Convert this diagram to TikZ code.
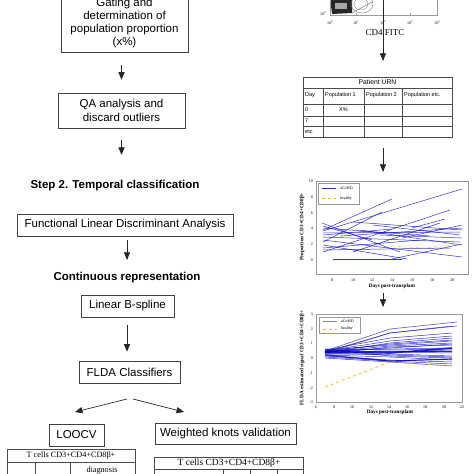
\documentclass[tikz,border=0pt]{standalone}
\usepackage{fontspec}
\setmainfont{Liberation Sans}
\newfontfamily\serifface{Liberation Serif}
\usepackage{tikz}
\usetikzlibrary{arrows}
\newcommand{\boxfont}{\fontsize{11.5}{13.3}\selectfont}
\newcommand{\headfont}{\fontsize{11.5}{13.3}\selectfont\bfseries}
\newcommand{\cellfont}{\fontsize{5.5}{6}\selectfont}
\newcommand{\tickfont}{\serifface\fontsize{4}{4.5}\selectfont}
\newcommand{\labfont}{\serifface\fontsize{5.2}{6}\selectfont\bfseries}
\tikzstyle{stepbox} = [draw=black!75, line width=0.8pt, align=center, inner sep=0pt, font=\boxfont]
\tikzstyle{steptitle} = [font=\headfont, inner sep=0pt, text height=8.5pt, text depth=2.5pt]
\tikzstyle{flow} = [draw=black!85, line width=0.7pt, >=triangle 45, ->]
\tikzstyle{gvhd} = [draw=blue!75!black, line width=0.5pt, opacity=0.8]
\tikzstyle{healthy} = [draw=orange!60!yellow, dashed, line width=0.7pt]
\tikzstyle{plotframe} = [draw=black!40, line width=0.5pt, inner sep=0pt]
\tikzstyle{tablerule} = [draw=black!70, line width=0.5pt]

\begin{document}
\begin{tikzpicture}[x=1pt,y=-1pt]
	\useasboundingbox (0,0) rectangle (474,474);
	\clip (0,0) rectangle (474,474);
	\fill[white] (0,0) rectangle (474,474);

	% ------------------- Step boxes (left column) ------------------- %
	\node[stepbox, minimum width=127pt, minimum height=58pt] (gating) at (124.5,23) {Gating and\\determination of\\population proportion\\(x\%)};
	\node[stepbox, minimum width=127pt, minimum height=35pt] (qa) at (121.5,110.5) {QA analysis and\\discard outliers};
	\node[steptitle] (step2) at (115,185) {Step 2. Temporal classification};
	\node[stepbox, minimum width=216pt, minimum height=22pt] (flda) at (125,225) {Functional Linear Discriminant Analysis};
	\node[steptitle] (contrep) at (127,277) {Continuous representation};
	\node[stepbox, minimum width=93pt, minimum height=22pt] (bspline) at (127.5,306) {Linear B-spline};
	\node[stepbox, minimum width=101pt, minimum height=22pt] (classif) at (129.5,372) {FLDA Classifiers};
	\node[stepbox, minimum width=55pt, minimum height=22pt] (loocv) at (76.5,435) {LOOCV};
	\node[stepbox, minimum width=141pt, minimum height=21pt] (knots) at (225.5,433.5) {Weighted knots validation};

	\draw[flow, shorten <=13pt, shorten >=13pt] (gating.south -| qa.north) -- (qa.north);
	\draw[flow, shorten <=12pt, shorten >=24.5pt] (qa.south) -- (qa.south |- step2.north);
	\draw[flow, shorten <=4pt, shorten >=11.5pt] (flda.south -| contrep.north) -- (contrep.north);
	\draw[flow, shorten <=8pt, shorten >=9pt] (bspline.south -| contrep.north) -- (contrep.north |- classif.north);

	\coordinate (fork west) at (127,399);
	\coordinate (fork east) at (133,399);
	\coordinate (to loocv) at (75,412);
	\coordinate (to knots) at (184,412);
	\draw[flow] (fork west) -- (to loocv);
	\draw[flow] (fork east) -- (to knots);

	% ------------------- Result tables (bottom) ------------------- %
	\draw[tablerule] (7,449) rectangle (135,480);
	\draw[tablerule] (7,462) -- (135,462);
	\draw[tablerule] (35,462) -- (35,480);
	\draw[tablerule] (70,462) -- (70,480);
	\node[font=\serifface\fontsize{8.2}{9}\selectfont, inner sep=0pt] (loocv head) at (71,455.5) {T cells CD3+CD4+CD8β+};
	\node[font=\serifface\fontsize{8.2}{9}\selectfont, inner sep=0pt] (loocv diag) at (102,470.5) {diagnosis};

	\draw[tablerule] (154,457) rectangle (303,480);
	\draw[tablerule] (154,469) -- (303,469);
	\foreach \cx in {223,250,277}
		\draw[tablerule] (\cx,469) -- (\cx,480);
	\node[font=\serifface\fontsize{9.5}{10}\selectfont, inner sep=0pt] (knots head) at (229,463) {T cells CD3+CD4+CD8β+};

	% ------------------- Cytometry plot (top right) ------------------- %
	\fill[black!85] (330,-2) -- (352,-2) -- (352,13) -- (332,14) -- cycle;
	\fill[black!35] (335,3) rectangle (347,9);
	\draw[black!55, line width=0.4pt] (362,4) ellipse (11pt and 9pt);
	\draw[black!45, line width=0.4pt] (361,4) ellipse (7pt and 6pt);
	\draw[black!60, line width=0.4pt] (352,13) -- (372,2);
	\draw[plotframe] (330,-2) -- (330,15) -- (437,15) -- (437,-2);
	\foreach \p/\cx in {0/330,1/356,2/383,3/410,4/437} {
		\draw[plotframe] (\cx,15) -- (\cx,13);
		\node[font=\tickfont, inner sep=0pt] (cd4 tick\p) at (\cx,23) {10\textsuperscript{\p}};
	}
	\node[font=\tickfont, inner sep=0pt] (cd8 tick0) at (323,14) {10\textsuperscript{0}};
	\node[font=\serifface\fontsize{9}{10}\selectfont, inner sep=0pt] (cd4 label) at (385,33) {CD4 FITC};
	\coordinate (gate top) at (383,-2);

	% ------------------- Patient URN table ------------------- %
	\node[tablerule, minimum width=149pt, minimum height=60pt, inner sep=0pt] (urn) at (377.5,107) {};
	\foreach \ry in {88,104,116,126}
		\draw[tablerule] (303,\ry) -- (452,\ry);
	\foreach \cx in {323,364,402}
		\draw[tablerule] (\cx,88) -- (\cx,137);
	\node[font=\fontsize{6.8}{7}\selectfont, inner sep=0pt] (urn head) at (377.5,82.5) {Patient URN};
	\node[font=\cellfont, anchor=west, inner sep=0pt] (urn day) at (305,95) {Day};
	\node[font=\cellfont, anchor=west, inner sep=0pt] (urn pop1) at (325,95) {Population 1};
	\node[font=\cellfont, anchor=west, inner sep=0pt] (urn pop2) at (366,95) {Population 2};
	\node[font=\cellfont, anchor=west, inner sep=0pt] (urn popx) at (404,95) {Population etc.};
	\node[font=\cellfont, anchor=west, inner sep=0pt] (urn d0) at (305,110) {0};
	\node[font=\cellfont, inner sep=0pt] (urn x) at (343.5,110) {X\%};
	\node[font=\cellfont, anchor=west, inner sep=0pt] (urn d7) at (305,121) {7};
	\node[font=\cellfont, anchor=west, inner sep=0pt] (urn etc) at (305,131.5) {etc};

	% ------------------- Raw trajectories ------------------- %
	\node[plotframe, minimum width=152pt, minimum height=93pt] (trend) at (392,227.5) {};
	\foreach \xa/\ya/\xb/\yb in {323/230/392/199, 323/231/462/189, 323/242/382/212, 322/223/400/252,
		323/233/460/232, 323/252/450/210, 333/259/402/259, 323/240/462/257, 353/252/440/223,
		323/237/460/242, 373/225/460/235, 323/245/407/259, 323/228/430/236, 340/236/462/228,
		323/248/420/240, 360/230/462/245, 323/235/392/229, 380/235/462/238, 392/259/462/244,
		323/226/372/240, 402/238/462/225, 323/250/450/248, 353/222/462/230, 412/228/445/219}
		\draw[gvhd] (\xa,\ya) -- (\xb,\yb);
	\draw[healthy, opacity=0.6] (392,246) -- (425,248) -- (462,244);
	\foreach \v/\cy in {0/260,2/244,4/228,6/213,8/197,10/181}
		\node[font=\tickfont, anchor=east, inner sep=0pt] (trend y\v) at (313,\cy) {\v};
	\foreach \v/\cx in {8/332,10/353,12/372,14/392,16/412,18/432,20/452}
		\node[font=\tickfont, inner sep=0pt] (trend x\v) at (\cx,280) {\v};
	\node[font=\labfont, inner sep=0pt] (trendx) at (392,286.5) {Days post-transplant};
	\node[font=\labfont, rotate=90, inner sep=0pt] (trendy) at (302,227) {Proportion CD3+CD4+CD8β+};
	\node[plotframe, minimum width=41pt, minimum height=21pt] (trend key) at (338.5,193.5) {};
	\draw[gvhd] (322,188.5) -- (336,188.5);
	\draw[healthy] (322,198.5) -- (336,198.5);
	\node[font=\tickfont, anchor=west, inner sep=0pt] (trend key1) at (340,188.5) {aGvHD};
	\node[font=\tickfont, anchor=west, inner sep=0pt] (trend key2) at (340,198.5) {healthy};

	% ------------------- FLDA signal ------------------- %
	\node[plotframe, minimum width=146pt, minimum height=88pt] (signal) at (389,358) {};
	\foreach \ya/\yk/\yb in {352/333/326, 350/338/333, 351/341/336, 353/343/338, 350/345/341,
		352/346/343, 354/347/345, 351/349/348, 349/350/349, 351/351/351, 353/352/350, 352/351/352,
		350/352/353, 354/354/356, 355/357/360, 356/360/362, 357/361/364, 358/362/366, 353/355/357,
		352/348/344, 351/344/340, 349/356/358}
		\draw[gvhd] (325,\ya) -- (390,\yk) -- (452,\yb);
	\draw[gvhd, draw=black!30!blue!60!gray, line width=0.6pt] (325,351) -- (390,329) -- (457,322);
	\draw[gvhd, draw=black!30!blue!60!gray, line width=0.6pt] (325,353) -- (390,333) -- (457,326);
	\draw[gvhd, line width=1.6pt] (325,352) -- (390,353) -- (452,348);
	\draw[gvhd, line width=1.2pt] (325,355) -- (390,361) -- (452,359);
	\draw[healthy] (325,387) -- (390,362) -- (452,366);
	\foreach \v/\cy in {3/314,2/329,1/343,0/358,-1/373,-2/388,-3/402}
		\node[font=\tickfont, anchor=east, inner sep=0pt] (signal y\v) at (313,\cy) {\v};
	\foreach \v/\cx in {6/316,8/334,10/352,12/371,14/389,16/407,18/425,20/444,22/462}
		\node[font=\tickfont, inner sep=0pt] (signal x\v) at (\cx,407) {\v};
	\node[font=\labfont, inner sep=0pt] (signalx) at (390,412.5) {Days post-transplant};
	\node[font=\labfont, rotate=90, inner sep=0pt] (signaly) at (302,358) {FLDA estimated signal CD3+CD4+CD8β+};
	\node[plotframe, minimum width=41pt, minimum height=16pt] (signal key) at (339.5,325) {};
	\draw[gvhd, draw=black!60] (323,321) -- (337,321);
	\draw[healthy] (323,329) -- (337,329);
	\node[font=\tickfont, anchor=west, inner sep=0pt] (signal key1) at (341,321) {aGvHD};
	\node[font=\tickfont, anchor=west, inner sep=0pt] (signal key2) at (341,329) {healthy};

	% ------------------- Right column arrows ------------------- %
	\draw[flow, shorten >=16pt] (gate top) -- (gate top |- urn.north);
	\draw[flow, shorten <=11pt, shorten >=9pt] (urn.south -| gate top) -- (gate top |- trend.north);
	\draw[flow, shorten <=4pt, shorten >=7pt] (trendx.south -| gate top) -- (gate top |- signal.north);
\end{tikzpicture}
\end{document}
